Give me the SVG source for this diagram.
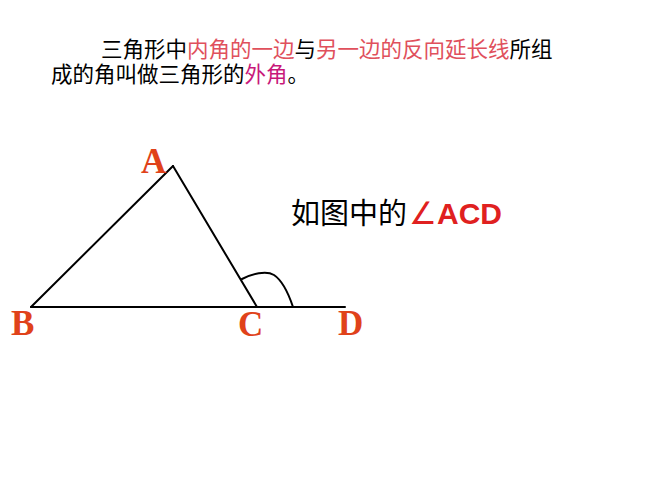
<svg xmlns="http://www.w3.org/2000/svg" width="667" height="500" viewBox="0 0 667 500">
<style>
.cn{font-family:"Noto Sans CJK SC","Noto Sans",sans-serif;font-size:21.5px;fill:#000}
.hl{fill:#e0505c}
.mg{fill:#c8187a}
.lbl{font-family:"Liberation Serif",serif;font-weight:bold;font-size:35px;fill:#e0421a}
.edge{stroke:#000;stroke-width:2;fill:none;stroke-linecap:round}
</style>
<rect width="667" height="500" fill="#fff"/>
<g id="caption">
<text class="cn" x="101" y="57">三角形中</text>
<text class="cn hl" x="187" y="57">内角的一边</text>
<text class="cn" x="294.5" y="57">与</text>
<text class="cn hl" x="316" y="57">另一边的反向延长线</text>
<text class="cn" x="509.5" y="57">所组</text>
<text class="cn" x="51" y="82">成的角叫做三角形的</text>
<text class="cn mg" x="244.5" y="82">外角</text>
<text class="cn" x="287.5" y="82">。</text>
</g>
<g id="connectors">
<line class="edge" x1="31" y1="307" x2="345" y2="307"/>
<line class="edge" x1="31" y1="307" x2="173" y2="166"/>
<line class="edge" x1="173" y1="166" x2="257" y2="307"/>
<path class="edge" d="M242,279 C252,274 266,270 274,275 C283,281 289,295 293,307"/>
</g>
<g id="node-A"><text class="lbl" x="141" y="173">A</text></g>
<g id="node-B"><text class="lbl" x="11" y="335">B</text></g>
<g id="node-C"><text class="lbl" x="238" y="336">C</text></g>
<g id="node-D"><text class="lbl" x="338" y="335">D</text></g>
<g id="note">
<text x="291" y="224" style="font-family:'Noto Sans CJK SC','Noto Sans',sans-serif;font-size:29px;fill:#000">如图中的</text>
<text x="409" y="224" style="fill:#e02020;font-family:'DejaVu Sans',sans-serif;font-size:31px">∠</text>
<text x="437" y="224" style="fill:#e02020;font-family:'Liberation Sans',sans-serif;font-weight:bold;font-size:30px">ACD</text>
</g>
</svg>
